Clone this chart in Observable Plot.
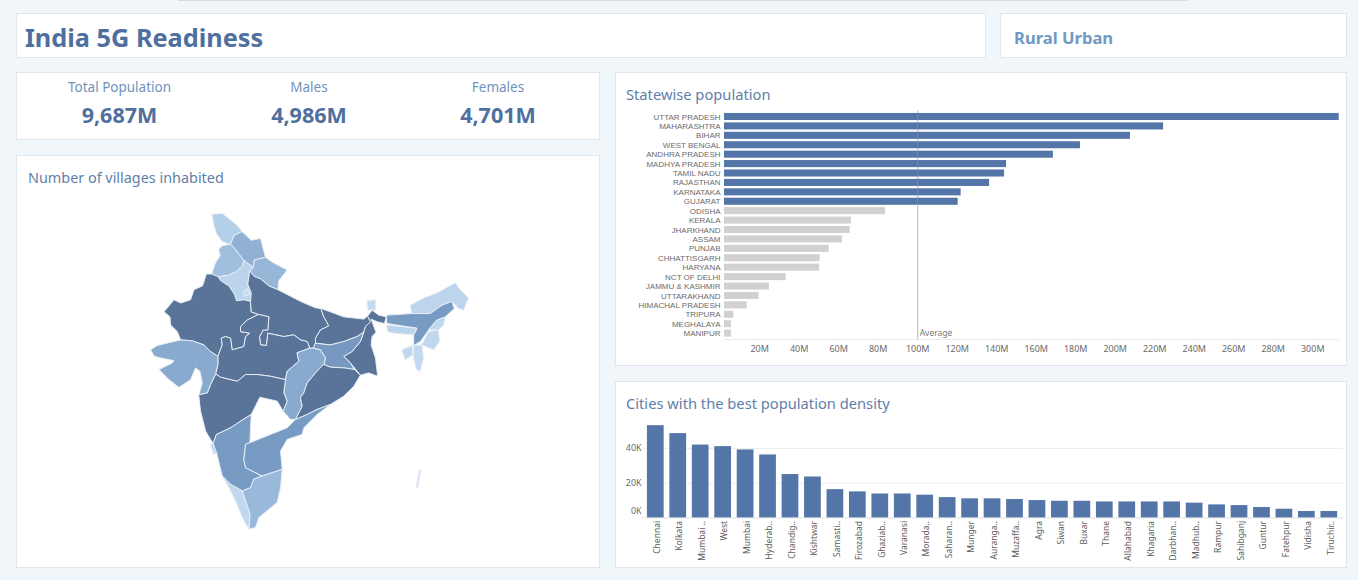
<!DOCTYPE html>
<html><head><meta charset="utf-8">
<script src="https://cdn.jsdelivr.net/npm/d3@7"></script>
<script src="https://cdn.jsdelivr.net/npm/@observablehq/plot@0.6"></script>
<style>
html,body{margin:0;padding:0;width:1358px;height:580px;overflow:hidden;background:#f1f6fb;font-family:"Noto Sans",sans-serif}
.p{position:absolute;background:#fff;border:1px solid #e2e6ea;box-sizing:border-box}
.t{position:absolute;white-space:nowrap;line-height:1}
.c{transform:translateX(-50%)}
.h{color:#5f7fa8;font-size:14.7px}
.k{color:#7093bd;font-size:13.5px}
.v{color:#4f6f9f;font-size:21.5px;font-weight:700}
#bars,#cols,#map{position:absolute}
svg{display:block;background:transparent!important}
</style></head><body>
<div style="position:absolute;left:178px;top:0;width:1009px;height:1px;background:#d8dadc"></div>
<div class="p" style="left:16px;top:13px;width:970px;height:45px"></div>
<div class="p" style="left:1000px;top:13px;width:347px;height:45px"></div>
<div class="p" style="left:16px;top:72px;width:584px;height:68px"></div>
<div class="p" style="left:16px;top:155px;width:584px;height:413px"></div>
<div class="p" style="left:615px;top:72px;width:732px;height:294px"></div>
<div class="p" style="left:615px;top:381px;width:732px;height:187px"></div>
<div class="t" style="left:25px;top:25px;font-size:25.3px;font-weight:700;color:#4f6f9f">India 5G Readiness</div>
<div class="t" style="left:1014px;top:30px;font-size:16.6px;font-weight:700;color:#7099c4">Rural Urban</div>
<div class="t k c" style="left:119.5px;top:81px">Total Population</div>
<div class="t k c" style="left:309px;top:81px">Males</div>
<div class="t k c" style="left:498px;top:81px">Females</div>
<div class="t v c" style="left:119.5px;top:104px">9,687M</div>
<div class="t v c" style="left:309px;top:104px">4,986M</div>
<div class="t v c" style="left:498px;top:104px">4,701M</div>
<div class="t h" style="left:28px;top:171px;font-size:14.4px">Number of villages inhabited</div>
<div class="t h" style="left:626px;top:87px">Statewise population</div>
<div class="t h" style="left:626px;top:396px">Cities with the best population density</div>
<div id="map"  style="left:140px;top:203px"></div>
<div id="bars" style="left:615px;top:105px"></div>
<div id="cols" style="left:615px;top:410px"></div>
<script>
// Statewise population (millions)
const barStates = ["UTTAR PRADESH","MAHARASHTRA","BIHAR","WEST BENGAL","ANDHRA PRADESH","MADHYA PRADESH","TAMIL NADU","RAJASTHAN","KARNATAKA","GUJARAT","ODISHA","KERALA","JHARKHAND","ASSAM","PUNJAB","CHHATTISGARH","HARYANA","NCT OF DELHI","JAMMU & KASHMIR","UTTARAKHAND","HIMACHAL PRADESH","TRIPURA","MEGHALAYA","MANIPUR"];
const barValues = [313.4,224.5,207.7,182.4,168.7,145,144,136.4,122,120.5,83.7,66.5,65.8,62,55.2,50.6,50.4,33.4,25,19.7,13.7,6.9,5.7,5.7];
const barAverage = 100;
const barStart = 2.2;
const barTicks = [20,40,60,80,100,120,140,160,180,200,220,240,260,280,300];

// Cities with the best population density (thousands)
const cityNames = ["Chennai","Kolkata","Mumbai ..","West","Mumbai","Hyderab..","Chandig..","Kishtwar","Samasti..","Firozabad","Ghaziab..","Varanasi","Morada..","Saharan..","Munger","Auranga..","Muzaffa..","Agra","Siwan","Buxar","Thane","Allahabad","Khagaria","Darbhan..","Madhub..","Rampur","Sahibganj","Guntur","Fatehpur","Vidisha","Tiruchir.."];
const cityValues = [53.2,48.6,42,41.1,39.2,36.3,25,23.6,16.3,15,13.8,13.8,13.1,11.7,11,11,10.6,10,9.6,9.6,9.2,9.2,9.2,9.2,8.5,7.5,7.1,6,5,3.7,3.7];

// Villages inhabited per state (estimated from shading)
const mapStates = ["Jammu & Kashmir","Himachal Pradesh","Punjab","Uttarakhand","Haryana","Delhi","Rajasthan","Uttar Pradesh","Madhya Pradesh","Bihar","West Bengal","Jharkhand","Chhattisgarh","Odisha","Maharashtra","Gujarat","Goa","Karnataka","Andhra Pradesh","Tamil Nadu","Kerala","Sikkim","Arunachal Pradesh","Assam","Meghalaya","Nagaland","Manipur","Mizoram","Tripura","Andaman"];
const mapVillages = [6000,19000,13000,16500,3500,300,45000,45000,45000,45000,45000,29000,22000,45000,45000,22000,500,28000,28000,16000,1500,300,3000,28000,3500,2000,2000,1000,1500,200];
const mapRings = [
[[73.94,34.84],[74.86,34.89],[75.32,34.60],[76.25,33.98],[76.71,33.49],[75.94,33.19],[75.63,32.53],[74.86,32.73],[74.34,33.34],[74.09,33.98]],
[[76.71,33.49],[77.54,32.83],[78.40,32.98],[78.86,31.50],[77.85,31.30],[77.72,30.71],[76.86,31.25],[75.94,32.27],[75.63,32.53],[75.94,33.19]],
[[74.55,32.14],[74.86,32.40],[75.63,32.53],[75.94,32.27],[76.86,31.25],[76.71,30.76],[76.18,30.37],[75.32,30.05],[74.46,29.97],[73.88,30.18],[74.25,31.09],[74.65,31.60]],
[[77.85,31.30],[78.86,31.50],[79.48,31.12],[80.86,30.50],[80.09,29.65],[80.00,28.92],[79.17,29.22],[78.40,29.79],[77.85,29.97],[77.42,30.39],[77.72,30.71]],
[[74.46,29.97],[75.32,30.05],[76.18,30.37],[76.71,30.76],[76.86,31.25],[77.72,30.71],[77.42,30.39],[77.23,29.35],[77.54,28.65],[77.48,27.97],[76.86,28.10],[76.18,28.02],[76.00,28.52],[75.48,29.22],[74.71,29.65]],
[[76.80,28.78],[77.17,29.00],[77.42,28.57],[77.02,28.39]],
[[73.42,30.18],[73.88,30.18],[74.46,29.97],[74.71,29.65],[75.48,29.22],[76.00,28.52],[76.18,28.02],[76.86,28.10],[77.48,27.97],[77.54,27.11],[78.25,26.89],[77.17,26.43],[76.55,25.88],[76.55,25.47],[77.42,25.34],[77.02,25.06],[76.86,24.22],[75.78,23.94],[75.63,24.92],[75.17,25.06],[74.77,24.92],[74.86,24.36],[74.46,23.39],[73.78,23.80],[73.17,24.36],[72.09,24.70],[71.02,24.78],[70.71,25.47],[70.09,26.02],[70.03,26.70],[69.48,27.11],[70.40,28.10],[71.02,27.83],[71.94,28.10],[72.25,28.92],[73.02,29.22]],
[[77.42,30.39],[77.85,29.97],[78.40,29.79],[79.17,29.22],[80.00,28.92],[81.17,28.39],[82.09,27.97],[83.48,27.44],[84.00,27.38],[84.25,26.70],[84.71,25.96],[83.94,25.61],[83.48,24.92],[83.48,24.50],[83.32,24.08],[82.95,24.08],[82.71,24.64],[82.09,24.78],[81.48,25.20],[80.55,25.06],[79.08,25.34],[78.95,24.31],[78.40,24.36],[78.31,25.06],[78.65,25.61],[79.08,25.61],[79.17,26.70],[78.25,26.89],[77.54,27.11],[77.48,27.97],[77.54,28.65],[77.23,29.35]],
[[78.25,26.89],[79.17,26.70],[79.08,25.61],[78.65,25.61],[78.31,25.06],[78.40,24.36],[78.95,24.31],[79.08,25.34],[80.55,25.06],[81.48,25.20],[82.09,24.78],[82.71,24.64],[82.95,24.08],[81.78,23.67],[81.94,22.97],[80.86,22.12],[80.71,21.40],[79.32,21.69],[78.09,21.84],[77.02,21.84],[76.25,21.26],[74.71,21.61],[74.25,21.89],[74.46,22.69],[74.46,23.39],[74.86,24.36],[74.77,24.92],[75.17,25.06],[75.63,24.92],[75.78,23.94],[76.86,24.22],[77.02,25.06],[77.42,25.34],[76.55,25.47],[76.55,25.88],[77.17,26.43]],
[[84.00,27.38],[84.86,27.11],[86.09,26.70],[87.94,26.51],[88.31,26.78],[88.55,26.29],[88.09,25.88],[87.94,25.42],[87.32,25.06],[86.09,24.64],[84.86,24.36],[83.48,24.50],[83.48,24.92],[83.94,25.61],[84.71,25.96],[84.25,26.70]],
[[88.31,26.78],[88.71,27.25],[89.32,26.84],[90.03,26.70],[89.85,26.15],[89.17,26.29],[88.62,26.51],[88.80,26.07],[89.08,25.42],[88.71,25.06],[88.62,24.36],[89.02,23.25],[89.23,21.69],[88.40,21.98],[87.63,21.78],[86.71,22.83],[86.09,23.39],[86.86,23.80],[87.63,24.64],[87.94,25.42],[88.09,25.88],[88.55,26.29]],
[[83.48,24.50],[84.86,24.36],[86.09,24.64],[87.32,25.06],[87.94,25.42],[87.63,24.64],[86.86,23.80],[86.09,23.39],[86.71,22.83],[87.08,22.27],[86.09,22.41],[84.86,22.47],[84.25,22.69],[84.40,23.25],[83.94,23.94],[83.32,24.08]],
[[82.95,24.08],[83.32,24.08],[83.94,23.94],[84.40,23.25],[84.25,22.69],[83.48,21.98],[82.71,21.12],[82.40,20.26],[82.09,19.83],[82.25,19.10],[81.63,17.93],[81.17,17.93],[80.49,18.66],[80.86,19.54],[80.55,20.26],[80.71,21.40],[80.86,22.12],[81.94,22.97],[81.78,23.67]],
[[84.25,22.69],[84.86,22.47],[86.09,22.41],[87.08,22.27],[87.63,21.78],[87.02,20.83],[86.09,19.97],[84.86,19.25],[83.63,18.81],[82.71,18.37],[81.63,17.93],[82.25,19.10],[82.09,19.83],[82.40,20.26],[82.71,21.12],[83.48,21.98]],
[[72.71,20.11],[73.48,20.26],[73.78,20.97],[74.25,21.89],[74.71,21.61],[76.25,21.26],[77.02,21.84],[78.09,21.84],[79.32,21.69],[80.71,21.40],[80.55,20.26],[80.86,19.54],[80.49,18.66],[79.94,19.54],[78.34,19.88],[77.54,18.37],[76.55,17.79],[75.63,17.20],[74.34,16.62],[74.03,15.79],[73.32,16.91],[72.86,18.66]],
[[68.25,23.94],[68.86,24.31],[71.02,24.78],[72.09,24.70],[73.17,24.36],[73.78,23.80],[74.46,23.39],[74.46,22.69],[74.25,21.89],[73.78,20.97],[73.48,20.26],[72.71,20.11],[73.02,21.12],[72.80,22.12],[72.40,22.41],[71.94,21.40],[70.86,20.74],[69.94,21.40],[69.02,22.27],[70.25,22.83],[70.40,23.03],[69.17,23.25],[68.62,23.39]],
[[73.78,15.73],[74.03,15.79],[74.34,14.99],[74.09,14.84]],
[[74.34,16.62],[75.63,17.20],[76.55,17.79],[77.54,18.37],[77.42,15.88],[77.02,15.73],[76.86,14.39],[77.02,13.65],[78.55,12.90],[77.78,12.60],[77.48,11.85],[76.71,11.55],[75.63,12.15],[74.86,12.90],[74.34,14.99],[74.03,15.79]],
[[77.42,15.88],[79.32,16.62],[80.86,17.20],[81.63,17.93],[82.71,18.37],[83.63,18.81],[84.86,19.25],[83.63,18.37],[82.40,17.20],[82.25,16.62],[80.86,16.17],[80.25,15.14],[80.40,13.50],[78.55,12.90],[77.02,13.65],[76.86,14.39],[77.02,15.73]],
[[78.55,12.90],[80.40,13.50],[80.25,11.85],[79.94,10.50],[79.17,9.89],[78.25,9.13],[77.94,8.22],[77.32,8.07],[77.42,9.43],[77.17,10.19],[76.71,11.55],[77.48,11.85],[77.78,12.60]],
[[74.86,12.90],[75.63,12.15],[76.71,11.55],[77.17,10.19],[77.42,9.43],[77.32,8.07],[76.71,9.13],[76.09,10.65],[75.48,11.85]],
[[88.25,28.02],[89.02,28.10],[89.02,27.25],[88.31,27.25]],
[[92.25,27.66],[93.48,28.25],[94.71,28.65],[96.40,29.48],[96.86,28.92],[97.63,28.25],[97.17,27.25],[96.71,27.38],[96.09,27.97],[95.17,27.66],[94.09,26.97],[92.40,26.97]],
[[90.09,26.84],[92.40,26.97],[94.09,26.97],[95.17,27.66],[96.09,27.97],[96.31,27.38],[95.48,26.70],[94.71,26.43],[93.94,25.61],[93.17,24.64],[92.55,24.31],[92.55,25.20],[92.86,25.75],[90.09,26.15]],
[[90.09,26.02],[92.86,25.75],[92.55,25.20],[90.71,25.34],[90.15,25.47]],
[[94.71,26.43],[95.48,26.70],[95.32,26.02],[94.86,25.61],[93.94,25.61]],
[[93.94,25.47],[94.86,25.61],[94.95,24.64],[94.40,23.94],[93.32,24.36]],
[[92.55,24.31],[93.32,24.36],[93.48,23.25],[93.17,22.12],[92.80,22.27],[92.55,23.25]],
[[91.48,23.94],[92.40,24.31],[92.49,23.53],[91.78,23.11]],
[[93.11,13.50],[93.23,13.50],[92.92,11.85],[92.80,11.85]]
];

// ---------- Statewise population ----------
const barData = barStates.map((s,i)=>({state:s,value:barValues[i]}));
document.getElementById("bars").append(Plot.plot({
  width:732,height:255,marginLeft:109,marginRight:8.3,marginTop:5.6,marginBottom:21,
  style:{fontFamily:'"Noto Sans",sans-serif',background:"transparent"},
  x:{domain:[barStart,barValues[0]],label:null},
  y:{domain:barStates,label:null,padding:0.25,round:false},
  marks:[
    Plot.frame({anchor:"bottom",stroke:"#e9ecef"}),
    Plot.barX(barData,{x1:()=>barStart,x2:"value",y:"state",fill:d=>d.value>=barAverage?"#5375a7":"#d1d1d1"}),
    Plot.ruleX([barAverage],{stroke:"#8f9499",strokeOpacity:0.55,strokeWidth:1.2}),
    Plot.text(["Average"],{x:barAverage,frameAnchor:"bottom",dx:2,dy:-4,textAnchor:"start",fontSize:8.5,fill:"#777"}),
    Plot.axisY({tickSize:0,tickPadding:4,fontSize:8,fontFamily:'"Liberation Sans",sans-serif',fill:"#6b6b6b",label:null}),
    Plot.axisX({ticks:barTicks,tickFormat:d=>d+"M",tickSize:2,tickPadding:4.5,fontSize:9,fill:"#6b6b6b",stroke:"#e4e6e8",label:null})
  ]
}));

// ---------- Cities ----------
const cityData = cityNames.map((c,i)=>({city:c,value:cityValues[i]}));
document.getElementById("cols").append(Plot.plot({
  width:732,height:156,marginLeft:26.2,marginRight:4.1,marginTop:10.3,marginBottom:48.6,
  style:{fontFamily:'"Noto Sans",sans-serif',background:"transparent"},
  x:{domain:cityNames,label:null,padding:0.255,round:false},
  y:{domain:[0,56],label:null},
  marks:[
    Plot.gridY([20,40],{stroke:"#ecedef",strokeOpacity:1}),
    Plot.ruleY([0],{stroke:"#e2e4e6"}),
    Plot.barY(cityData,{x:"city",y:"value",fill:"#5375a7"}),
    Plot.axisY({ticks:[20,40],tickFormat:d=>d+"K",tickSize:0,tickPadding:0,fontSize:9,fill:"#6b6b6b",label:null}),
    Plot.axisY({ticks:[0],tickFormat:d=>d+"K",tickSize:0,tickPadding:0,dy:-7,fontSize:9,fill:"#6b6b6b",label:null}),
    Plot.axisX({tickRotate:-90,tickSize:0,tickPadding:3,dx:1.5,fontSize:8.5,fill:"#5c5c5c",label:null})
  ]
}));

// ---------- Map ----------
const features = mapStates.map((name,i)=>{
  const ring = mapRings[i].concat([mapRings[i][0]]);
  let f = {type:"Feature",properties:{name,villages:mapVillages[i]},geometry:{type:"Polygon",coordinates:[ring]}};
  if (d3.geoArea(f) > 2*Math.PI) f.geometry.coordinates = [ring.slice().reverse()];
  return f;
});
const collection = {type:"FeatureCollection",features};
document.getElementById("map").append(Plot.plot({
  width:338.3,height:335.7,margin:0,
  style:{background:"transparent"},
  projection:{type:"mercator",domain:collection,inset:10},
  color:{type:"linear",domain:[0,15000,30000,45000],range:["#c4dcf1","#9bbbdc","#7396bf","#597399"],clamp:true},
  marks:[
    Plot.geo(features,{fill:d=>d.properties.villages,stroke:"#e6edf4",strokeWidth:1})
  ]
}));
</script>
</body></html>
